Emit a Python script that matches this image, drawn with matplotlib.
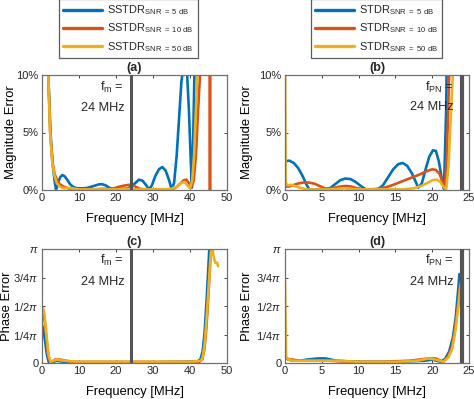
import matplotlib
matplotlib.use("Agg")
import matplotlib.pyplot as plt

plt.rcParams['font.family'] = ['Liberation Sans', 'DejaVu Sans']
plt.rcParams['mathtext.fontset'] = 'custom'
plt.rcParams['mathtext.rm'] = 'Liberation Sans'
plt.rcParams['mathtext.it'] = 'Liberation Sans:italic'
plt.rcParams['text.color'] = '#262626'

BLUE = '#0072BD'
ORANGE = '#D95319'
YELLOW = '#EDB120'
GRAY = '#555555'

# ---- (a) SSTDR magnitude error [%] ----
a_blue_x = [0, 1, 1.7, 2.3, 2.9, 3.4, 3.8, 4.3, 4.9, 5.5, 6.1, 6.8, 7.6, 8.5, 9.5, 10.5, 11.5, 12.5, 13.5,
            14.5, 15.5, 16.3, 17.2, 18.2, 19.2, 20.2, 21.2, 22.2, 23.2, 24.2, 25.2, 26.2, 27.2, 28.2, 28.9,
            29.7, 30.6, 31.6, 32.5, 33.4, 34.3, 35.0, 35.7, 36.4, 37.1, 37.7, 38.2, 38.7, 39.2, 39.7, 40.1,
            40.5, 40.9, 41.3, 42, 43, 45, 48]
a_blue_y = [60, 25, 10, 5, 2.2, 0.8, 0, 0.6, 1.1, 1.3, 1.2, 0.9, 0.5, 0.25, 0.15, 0.15, 0.15, 0.2, 0.3,
            0.4, 0.5, 0.5, 0.4, 0.2, 0.05, 0.05, 0.1, 0.1, 0.15, 0.3, 0.6, 0.9, 0.8, 0.4, 0.05,
            0.4, 1.2, 1.8, 2.0, 1.7, 0.9, 0.1, 0.6, 3, 6.5, 9.5, 10.6, 10.8, 10.2, 7, 3.5,
            0.2, 5, 12, 30, 50, 80, 100]
a_orange_x = [0, 1, 1.7, 2.2, 2.8, 3.4, 4, 4.8, 5.8, 7, 8.5, 10, 12, 14, 16, 18, 19.5, 21, 22.5, 23.5,
              24.5, 25.5, 26.5, 28, 30, 32, 34, 35.5, 36.5, 37.5, 38.3, 39, 39.7, 40.4, 41, 41.6, 42.2,
              42.7, 43.3, 44, 44.8, 45.4, 46.0, 47, 50]
a_orange_y = [60, 25, 10, 5, 2.5, 1.4, 0.9, 0.5, 0.3, 0.15, 0.1, 0.05, 0.05, 0.05, 0.1, 0.1, 0.15, 0.3,
              0.4, 0.45, 0.4, 0.25, 0.1, 0.05, 0.05, 0.05, 0.05, 0.1, 0.3, 0.6, 0.85, 0.9, 0.6, 0.3, 0.8,
              3, 7, 10, 20, 60, 300, 0, 300, 100, 100]
a_yellow_x = [0, 1, 1.7, 2.2, 2.8, 3.4, 4, 4.8, 5.8, 7, 8, 9, 10, 12, 14, 17, 20, 23, 26, 29, 32, 35,
              36.5, 37.5, 38.5, 39.3, 40, 40.6, 41.1, 41.6, 42, 42.5, 43.5]
a_yellow_y = [60, 25, 10, 5, 2.3, 1.2, 0.6, 0.3, 0.15, 0.2, 0.15, 0.1, 0.05, 0.05, 0.05, 0.05, 0.05, 0.1,
              0.05, 0.05, 0.05, 0.1, 0.3, 0.6, 0.7, 0.4, 0.15, 0.8, 3, 7, 10, 20, 80]

# ---- (b) STDR magnitude error [%] ----
b_blue_x = [0, 0.6, 1.2, 1.8, 2.4, 2.9, 3.3, 3.8, 4.5, 5.3, 6.1, 6.8, 7.5, 8.2, 8.9, 9.6, 10.3, 11, 11.8,
            12.6, 13.3, 14, 14.7, 15.4, 16.0, 16.6, 17.2, 17.7, 18.1, 18.6, 19.1, 19.6, 20.1, 20.5, 20.9,
            21.3, 21.6, 21.9, 22.3]
b_blue_y = [2.5, 2.55, 2.35, 1.9, 1.2, 0.5, 0.05, 0.05, 0.05, 0.05, 0.15, 0.5, 0.85, 1.0, 0.95, 0.7, 0.35,
            0.05, 0.05, 0.05, 0.4, 1.1, 1.8, 2.25, 2.35, 2.1, 1.5, 0.8, 0.2, 0.6, 1.8, 2.9, 3.45, 3.4, 2.5,
            1.0, 0.1, 7, 30]
b_orange_x = [0, 0.5, 1, 1.7, 2.5, 3.2, 4, 4.7, 5.4, 6, 6.7, 7.5, 8.3, 9, 9.8, 10.6, 11.5, 12.5, 13.5, 14.5,
              15.5, 16.5, 17.5, 18.5, 19.3, 20, 20.5, 21, 21.4, 21.7, 22.0, 22.3, 22.8]
b_orange_y = [0.3, 0.3, 0.4, 0.55, 0.65, 0.65, 0.55, 0.35, 0.15, 0.1, 0.2, 0.3, 0.35, 0.3, 0.15, 0.05, 0.05,
              0.1, 0.2, 0.4, 0.65, 0.9, 1.15, 1.4, 1.65, 1.8, 1.75, 1.4, 0.7, 0.1, 3, 10, 40]
b_yellow_x = [0, 0.02, 0.1, 0.4, 0.8, 1.3, 2, 3, 4, 5, 6, 7, 8, 9, 10, 11, 12, 14, 16, 17.5, 18.5, 19.3, 20,
              20.6, 21.1, 21.5, 21.9, 22.2, 22.5, 22.8, 23.2]
b_yellow_y = [60, 10, 0.6, 0.4, 0.45, 0.35, 0.2, 0.05, 0.05, 0.05, 0.05, 0.1, 0.15, 0.1, 0.05, 0.05, 0.05,
              0.05, 0.05, 0.15, 0.35, 0.6, 0.85, 0.9, 0.7, 0.3, 0.05, 2, 6, 10, 40]

# ---- (c) SSTDR phase error [units of pi] ----
c_blue_x = [0, 0.3, 0.8, 1.3, 1.8, 2.3, 3, 4, 6, 10, 20, 30, 40, 42, 42.8, 43.4, 43.9, 44.4, 44.9, 45.3]
c_blue_y = [0.33, 0.3, 0.2, 0.08, 0.01, 0, 0.01, 0.02, 0.01, 0.005, 0.005, 0.005, 0.01, 0.015, 0.03, 0.1,
            0.25, 0.5, 0.8, 1.05]
c_orange_x = [0, 0.3, 0.8, 1.3, 1.8, 2.4, 3.5, 5, 8, 15, 25, 35, 42.5, 43.3, 43.9, 44.4, 44.9, 45.4, 45.8]
c_orange_y = [0.45, 0.45, 0.35, 0.18, 0.05, 0.0, 0.03, 0.03, 0.01, 0.01, 0.01, 0.01, 0.01, 0.03, 0.12, 0.3,
              0.55, 0.85, 1.1]
c_yellow_x = [0, 0.3, 0.7, 1.2, 1.7, 2.3, 3, 4, 6, 10, 20, 30, 40, 43, 43.5, 44, 44.5, 45, 45.5, 45.9, 46.3,
              46.8, 47.3, 47.6]
c_yellow_y = [0.47, 0.48, 0.42, 0.25, 0.08, 0.01, 0.02, 0.03, 0.02, 0.01, 0.01, 0.01, 0.01, 0.02, 0.06,
              0.18, 0.4, 0.65, 0.9, 1.05, 0.95, 0.88, 0.88, 0.85]

# ---- (d) STDR phase error [units of pi] ----
d_blue_x = [0, 0.1, 0.5, 1, 2, 3, 4.5, 5.5, 7, 10, 15, 19, 20, 21.2, 21.8, 22.3, 22.8, 23.2, 23.5, 23.7]
d_blue_y = [0.1, 0.05, 0.03, 0.02, 0.02, 0.03, 0.04, 0.04, 0.02, 0.01, 0.01, 0.02, 0.03, 0.01, 0.04, 0.1,
            0.22, 0.4, 0.62, 0.78]
d_orange_x = [0, 0.15, 0.5, 1, 2, 4, 6, 9, 13, 17, 19.5, 20.5, 21.5, 22.2, 22.7, 23.1, 23.5, 23.8, 24.0]
d_orange_y = [0.1, 0.04, 0.03, 0.03, 0.02, 0.02, 0.02, 0.01, 0.01, 0.02, 0.04, 0.04, 0.01, 0.06, 0.15, 0.3,
              0.5, 0.68, 0.72]
d_yellow_x = [0, 0.15, 0.5, 1, 2, 3, 5, 7, 10, 15, 18, 19.5, 20.5, 21.5, 22.2, 22.7, 23.1, 23.5, 23.8, 24.0]
d_yellow_y = [0.72, 0.05, 0.03, 0.02, 0.02, 0.02, 0.02, 0.02, 0.01, 0.01, 0.02, 0.04, 0.03, 0.01, 0.05,
              0.12, 0.26, 0.47, 0.66, 0.74]

snr_labels = ['5 dB', '10 dB', '50 dB']
mag_ticks = [0, 5, 10]
mag_ticklabels = ['0%', '5%', '10%']
phase_ticks = [0, 0.25, 0.5, 0.75, 1.0]
phase_ticklabels = ['0', r'1/4$\pi$', r'1/2$\pi$', r'3/4$\pi$', r'$\pi$']
f_marker = 24

fig = plt.figure(figsize=(4.74, 3.99), dpi=100)
W, H = 474, 399


def add_axes_px(left, top, right, bottom):
    return fig.add_axes([left / W, 1 - bottom / H, (right - left) / W, (bottom - top) / H])


ax_a = add_axes_px(42, 75, 227, 190)
ax_b = add_axes_px(285, 75, 469, 190)
ax_c = add_axes_px(42, 249, 227, 363)
ax_d = add_axes_px(285, 249, 469, 363)

lw = 1.9
panels = [
    (ax_a, [(a_blue_x, a_blue_y), (a_orange_x, a_orange_y), (a_yellow_x, a_yellow_y)]),
    (ax_b, [(b_blue_x, b_blue_y), (b_orange_x, b_orange_y), (b_yellow_x, b_yellow_y)]),
    (ax_c, [(c_blue_x, c_blue_y), (c_orange_x, c_orange_y), (c_yellow_x, c_yellow_y)]),
    (ax_d, [(d_blue_x, d_blue_y), (d_orange_x, d_orange_y), (d_yellow_x, d_yellow_y)]),
]

handles = {}
for ax, series in panels:
    hs = []
    for (x, y), col in zip(series, [BLUE, ORANGE, YELLOW]):
        h, = ax.plot(x, y, color=col, lw=lw, solid_joinstyle='round', solid_capstyle='round')
        hs.append(h)
    handles[ax] = hs
    ax.tick_params(direction='in', top=True, right=True, labelsize=8, colors='#262626',
                   length=2.5, width=0.6, pad=2.5)
    for s in ax.spines.values():
        s.set_color('#707070')
        s.set_linewidth(0.9)
    ax.set_xlabel('Frequency [MHz]', fontsize=9.3, va='center')
    ax.xaxis.set_label_coords(0.5, -0.25)

# gray marker lines
ax_a.axvline(f_marker, color=GRAY, lw=2.2, zorder=5)
ax_c.axvline(f_marker, color=GRAY, lw=2.2, zorder=5)
ax_b.axvline(f_marker, color=GRAY, lw=3.0, zorder=5)
ax_d.axvline(f_marker, color=GRAY, lw=3.0, zorder=5)

for ax in (ax_a, ax_c):
    ax.set_xlim(0, 50)
    ax.set_xticks([0, 10, 20, 30, 40, 50])
for ax in (ax_b, ax_d):
    ax.set_xlim(0, 25)
    ax.set_xticks([0, 5, 10, 15, 20, 25])

for ax in (ax_a, ax_b):
    ax.set_ylim(0, 10)
    ax.set_yticks(mag_ticks)
    ax.set_yticklabels(mag_ticklabels)
    ax.set_ylabel('Magnitude Error', fontsize=9.4, va='center')
for ax in (ax_c, ax_d):
    ax.set_ylim(0, 1)
    ax.set_yticks(phase_ticks)
    ax.set_yticklabels(phase_ticklabels)
    ax.set_ylabel('Phase Error', fontsize=9.4, va='center')
ax_a.yaxis.set_label_coords(-0.165, 0.5)
ax_b.yaxis.set_label_coords(-0.205, 0.5)
ax_c.yaxis.set_label_coords(-0.19, 0.5)
ax_d.yaxis.set_label_coords(-0.205, 0.5)

for ax, t in zip([ax_a, ax_b, ax_c, ax_d], ['(a)', '(b)', '(c)', '(d)']):
    ax.set_title(t, fontsize=9, fontweight='bold', pad=3)

# annotations
ax_a.text(22.2, 8.9, r'f$_{\mathrm{m}}$ =', ha='right', va='center', fontsize=9.2)
ax_a.text(22.2, 7.1, '24 MHz', ha='right', va='center', fontsize=9.2)
ax_b.text(22.9, 8.9, r'f$_{\mathrm{PN}}$ =', ha='right', va='center', fontsize=9.2)
ax_b.text(22.9, 7.2, '24 MHz', ha='right', va='center', fontsize=9.2)
ax_c.text(22.2, 0.9, r'f$_{\mathrm{m}}$ =', ha='right', va='center', fontsize=9.2)
ax_c.text(22.2, 0.71, '24 MHz', ha='right', va='center', fontsize=9.2)
ax_d.text(22.9, 0.9, r'f$_{\mathrm{PN}}$ =', ha='right', va='center', fontsize=9.2)
ax_d.text(22.9, 0.71, '24 MHz', ha='right', va='center', fontsize=9.2)

# legends
leg_kw = dict(loc='lower left', fontsize=7.9, frameon=True, fancybox=False, handlelength=3.5,
              handletextpad=0.45, labelspacing=0.4, borderpad=0.4, borderaxespad=0)
leg_a = fig.legend(handles[ax_a],
                   [r'SSTDR$_{\mathrm{SNR\ =\ %s}}$' % s.replace(' ', r'\ ') for s in snr_labels],
                   bbox_to_anchor=(59 / W, 1 - 58 / H), **leg_kw)
leg_b = fig.legend(handles[ax_b],
                   [r'STDR$_{\mathrm{SNR\ =\ %s}}$' % s.replace(' ', r'\ ') for s in snr_labels],
                   bbox_to_anchor=(311 / W, 1 - 58 / H), **leg_kw)
for leg in (leg_a, leg_b):
    leg.get_frame().set_edgecolor('#333333')
    leg.get_frame().set_linewidth(0.9)
    for line in leg.get_lines():
        line.set_linewidth(2.4)

fig.savefig('out.png', dpi=100)
